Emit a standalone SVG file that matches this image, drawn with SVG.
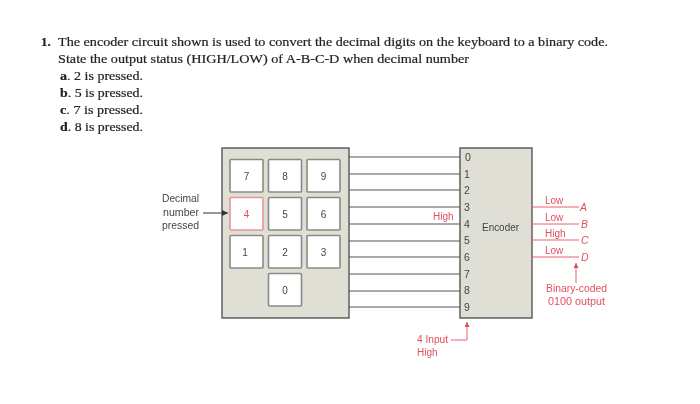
<svg xmlns="http://www.w3.org/2000/svg" width="700" height="404" viewBox="0 0 700 404">
<style>
.q{font-family:"Liberation Serif",serif;font-size:13px;fill:#222;stroke:#222;stroke-width:.2px}
.b{font-weight:bold}
.t{font-family:"Liberation Sans",sans-serif;font-size:10px;fill:#444}
.r{font-family:"Liberation Sans",sans-serif;font-size:10px;fill:#e0505e}
.i{font-style:italic;font-size:10.500px}
.k{font-family:"Liberation Sans",sans-serif;font-size:10px;fill:#444;text-anchor:middle}
.n{font-size:10.500px}
.key{fill:#fff;stroke:#8a8a84;stroke-width:1.6}
.panel{fill:#e0dfd6;stroke:#555;stroke-width:1.4}
.w{fill:none;stroke:#555;stroke-width:1.2}
.rw{fill:none;stroke:#e8606c;stroke-width:1}
</style>
<defs>
<filter id="soft" x="0" y="0" width="100%" height="100%"><feGaussianBlur stdDeviation="0.45"/></filter>
<marker id="ra" markerWidth="6" markerHeight="6" refX="5" refY="2.500" orient="auto"><path d="M0 0L5 2.500L0 5Z" fill="#e0505e"/></marker>
<marker id="ka" markerWidth="6" markerHeight="6" refX="5" refY="2.500" orient="auto"><path d="M0 0L5 2.500L0 5Z" fill="#333"/></marker>
</defs>
<rect width="700" height="404" fill="#fff"/>
<g filter="url(#soft)">
<g id="question">
<text class="q b" x="41" y="46">1.</text>
<text class="q" x="58" y="46" textLength="550" lengthAdjust="spacingAndGlyphs">The encoder circuit shown is used to convert the decimal digits on the keyboard to a binary code.</text>
<text class="q" x="58" y="63" textLength="411" lengthAdjust="spacingAndGlyphs">State the output status (HIGH/LOW) of A-B-C-D when decimal number</text>
<text class="q" x="60" y="80" textLength="83" lengthAdjust="spacingAndGlyphs"><tspan class="b">a</tspan>. 2 is pressed.</text>
<text class="q" x="60" y="97" textLength="83" lengthAdjust="spacingAndGlyphs"><tspan class="b">b</tspan>. 5 is pressed.</text>
<text class="q" x="60" y="114" textLength="83" lengthAdjust="spacingAndGlyphs"><tspan class="b">c</tspan>. 7 is pressed.</text>
<text class="q" x="60" y="131" textLength="83" lengthAdjust="spacingAndGlyphs"><tspan class="b">d</tspan>. 8 is pressed.</text>
</g>
<g id="keypad">
<rect class="panel" x="222" y="148" width="127" height="170"/>
</g>
<g id="key7"><rect class="key" x="230" y="159.500" width="33" height="32.500" rx="1"/><text class="k" x="246.500" y="179.500">7</text></g>
<g id="key8"><rect class="key" x="268.500" y="159.500" width="33" height="32.500" rx="1"/><text class="k" x="285" y="179.500">8</text></g>
<g id="key9"><rect class="key" x="307" y="159.500" width="33" height="32.500" rx="1"/><text class="k" x="323.500" y="179.500">9</text></g>
<g id="key4"><rect class="key" style="stroke:#e8949c" x="230" y="197.500" width="33" height="32.500" rx="1"/><text class="k" style="fill:#e0505e" x="246.500" y="217.500">4</text></g>
<g id="key5"><rect class="key" x="268.500" y="197.500" width="33" height="32.500" rx="1"/><text class="k" x="285" y="217.500">5</text></g>
<g id="key6"><rect class="key" x="307" y="197.500" width="33" height="32.500" rx="1"/><text class="k" x="323.500" y="217.500">6</text></g>
<g id="key1"><rect class="key" x="230" y="235.500" width="33" height="32.500" rx="1"/><text class="k" x="245" y="255.500">1</text></g>
<g id="key2"><rect class="key" x="268.500" y="235.500" width="33" height="32.500" rx="1"/><text class="k" x="285" y="255.500">2</text></g>
<g id="key3"><rect class="key" x="307" y="235.500" width="33" height="32.500" rx="1"/><text class="k" x="323.500" y="255.500">3</text></g>
<g id="key0"><rect class="key" x="268.500" y="273.500" width="33" height="32.500" rx="1"/><text class="k" x="285" y="293.500">0</text></g>
<g id="decimal-label">
<text class="t" x="162" y="202" textLength="37" lengthAdjust="spacingAndGlyphs">Decimal</text>
<text class="t" x="163" y="216" textLength="36" lengthAdjust="spacingAndGlyphs">number</text>
<text class="t" x="162" y="229" textLength="37" lengthAdjust="spacingAndGlyphs">pressed</text>
</g>
<g id="encoder">
<rect class="panel" x="460" y="148" width="72" height="170"/>
<text class="k n" x="468" y="161">0</text>
<text class="k n" x="467" y="178">1</text>
<text class="k n" x="467" y="194">2</text>
<text class="k n" x="467" y="211">3</text>
<text class="k n" x="467" y="228">4</text>
<text class="k n" x="467" y="244">5</text>
<text class="k n" x="467" y="261">6</text>
<text class="k n" x="467" y="278">7</text>
<text class="k n" x="467" y="294">8</text>
<text class="k n" x="467" y="311">9</text>
<text class="t" x="482" y="231" textLength="37" lengthAdjust="spacingAndGlyphs">Encoder</text>
</g>
<g id="outputs">
<text class="r" x="433" y="220">High</text>
<text class="r" x="545" y="204">Low</text>
<text class="r" x="545" y="221">Low</text>
<text class="r" x="545" y="237">High</text>
<text class="r" x="545" y="254">Low</text>
<text class="r i" x="580" y="211">A</text>
<text class="r i" x="581" y="228">B</text>
<text class="r i" x="581" y="244">C</text>
<text class="r i" x="581" y="261">D</text>
<text class="r" x="546" y="292" textLength="61" lengthAdjust="spacingAndGlyphs">Binary-coded</text>
<text class="r" x="548" y="305" textLength="57" lengthAdjust="spacingAndGlyphs">0100 output</text>
<text class="r" x="417" y="343" textLength="31" lengthAdjust="spacingAndGlyphs">4 Input</text>
<text class="r" x="417" y="356">High</text>
</g>
<g id="connectors">
<path class="w" d="M349 157H460M349 174H460M349 190H460M349 207H460M349 224H460M349 241H460M349 257H460M349 274H460M349 291H460M349 307H460"/>
<path class="rw" d="M532 207H579M532 224H579M532 240H579M532 257H579"/>
<path class="rw" d="M576 283V263" marker-end="url(#ra)"/>
<path class="rw" d="M451 340H467V322" marker-end="url(#ra)"/>
<path class="w" d="M203 213H228" marker-end="url(#ka)"/>
</g>
</g>
</svg>
